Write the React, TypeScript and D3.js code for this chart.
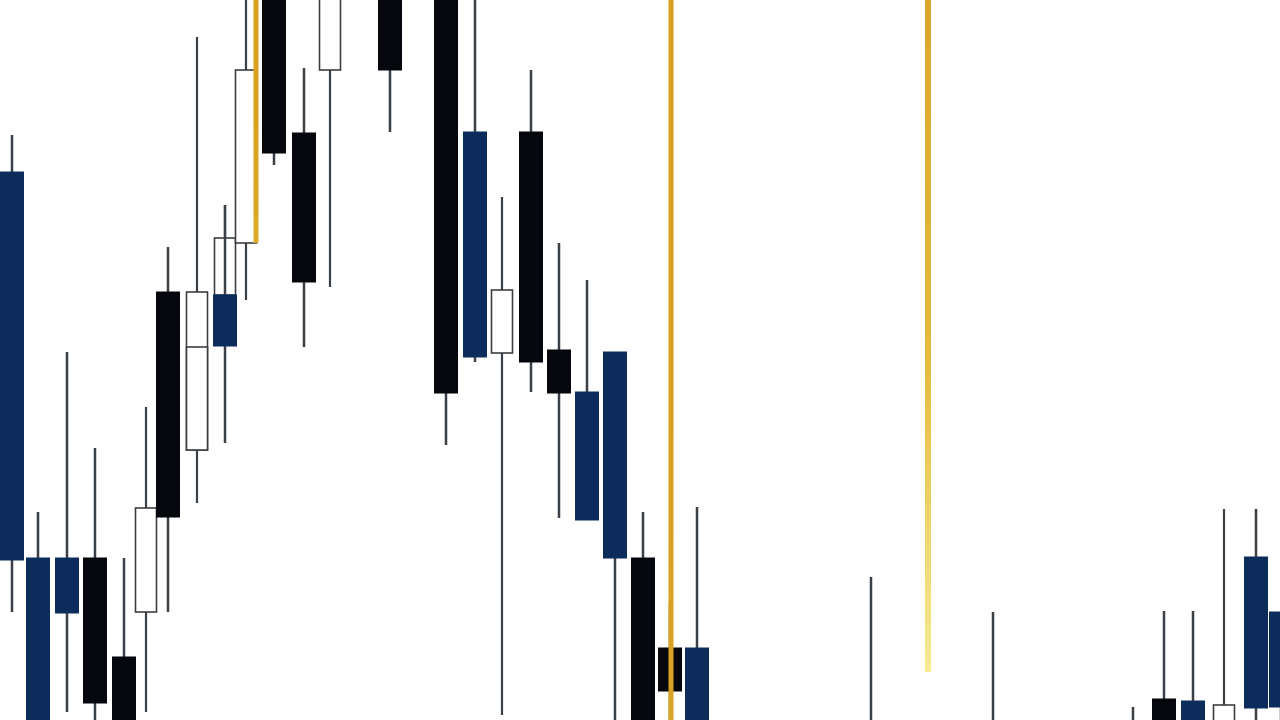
import React from "react";
import * as d3 from "d3";

// Candle data (x = time position, prices on an arbitrary scale)
const times = [12, 38, 67, 95, 124, 146, 168, 197, 197, 225, 225, 246, 274, 304, 330, 390, 446, 475, 502, 531, 559, 587, 615, 643, 670, 697, 871, 993, 1133, 1164, 1193, 1224, 1256, 1281];
const opens = [54.8, 16.2, 16.2, 16.2, 6.3, 10.8, 42.8, 27.0, 27.0, 42.5, 42.5, 47.7, 75, 58.7, 65.0, 75, 75, 58.8, 36.7, 58.8, 37.0, 32.8, 36.8, 16.2, 7.2, 7.2, -3, -3, -3, 2.1, 1.9, -3, 16.3, 10.8];
const closes = [16.0, -3, 10.7, 1.7, -3, 21.2, 20.3, 42.8, 37.3, 48.2, 37.4, 65.0, 56.7, 43.8, 75, 65.0, 32.7, 36.3, 43.0, 35.8, 32.7, 20.0, 16.2, -3, 2.9, -3, -5, -5, -5, -3, -3, 1.5, 1.2, 1.3];
const highs = [58.5, 20.8, 36.8, 27.2, 16.2, 31.3, 47.3, 68.3, 37.3, 51.5, 51.5, 75, 75, 65.2, 75, 75, 75, 75, 52.3, 65.0, 47.7, 44.0, 36.8, 20.8, 11.7, 21.3, 14.3, 10.8, 1.3, 10.9, 10.9, 21.1, 21.1, 10.8];
const lows = [10.8, -5, 0.8, -4, -5, 0.8, 10.8, 21.7, 27.0, 42.5, 27.7, 42.0, 55.5, 37.3, 43.3, 58.8, 27.5, 35.8, 0.5, 32.8, 20.2, 20.0, -3, -5, -5, -5, -6, -6, -6, -5, -5, -5, -5, -5];
const kinds = ["navy", "navy", "navy", "black", "black", "hollow", "black", "hollow", "hollow", "hollow", "navy", "hollow", "black", "black", "hollow", "black", "black", "navy", "hollow", "black", "black", "navy", "navy", "black", "black", "navy", "black", "black", "black", "black", "navy", "hollow", "navy", "navy"];

// Gold vertical marker lines
const markerTimes = [256, 671, 928];
const markerTops = [75, 75, 75];
const markerBottoms = [47.7, -5, 4.8];
const markerTopColors = ["#d8a21c", "#d6a01d", "#dba526"];
const markerBottomColors = ["#dcaa28", "#d9a528", "#f6ea96"];

const W = 1280;
const H = 720;

export default function App() {
  const x = d3.scaleLinear().domain([0, 1280]).range([0, W]);
  const y = d3.scaleLinear().domain([0, 72]).range([H, 0]);
  const bodyW = 23;
  const navy = "#0c2d5c";
  const black = "#05070c";
  const wick = "#3b3f46";

  const candles = times.map((t, i) => ({
    t,
    o: opens[i],
    c: closes[i],
    h: highs[i],
    l: lows[i],
    k: kinds[i],
  }));

  return (
    <svg
      width={W}
      height={H}
      style={{ position: "fixed", left: 0, top: 0, background: "#ffffff" }}
    >
      <defs>
        {markerTimes.map((t, i) => (
          <linearGradient
            key={"g" + i}
            id={"gold" + i}
            gradientUnits="userSpaceOnUse"
            x1={x(t)}
            x2={x(t)}
            y1={y(markerTops[i])}
            y2={y(markerBottoms[i])}
          >
            <stop offset="0%" stopColor={markerTopColors[i]} />
            <stop offset="55%" stopColor={i === 2 ? "#e4bb3c" : markerTopColors[i]} />
            <stop offset="100%" stopColor={markerBottomColors[i]} />
          </linearGradient>
        ))}
      </defs>
      <rect x={0} y={0} width={W} height={H} fill="#ffffff" />
      {candles.map((d, i) => {
        const cx = x(d.t);
        const top = y(Math.max(d.o, d.c));
        const bot = y(Math.min(d.o, d.c));
        const hollow = d.k === "hollow";
        const fill = d.k === "navy" ? navy : d.k === "black" ? black : "#ffffff";
        return (
          <g key={i}>
            {hollow ? (
              <>
                <line x1={cx} x2={cx} y1={y(d.h)} y2={top} stroke={wick} strokeWidth={2.2} />
                <line x1={cx} x2={cx} y1={bot} y2={y(d.l)} stroke={wick} strokeWidth={2.2} />
              </>
            ) : (
              <line x1={cx} x2={cx} y1={y(d.h)} y2={y(d.l)} stroke={wick} strokeWidth={2.5} />
            )}
            <rect
              x={cx - bodyW / 2 + (hollow ? 1 : 0)}
              y={top}
              width={bodyW - (hollow ? 2 : 0)}
              height={Math.max(1, bot - top)}
              fill={fill}
              stroke={hollow ? "#3a3d42" : fill}
              strokeWidth={hollow ? 1.6 : 1}
            />
          </g>
        );
      })}
      {markerTimes.map((t, i) => (
        <line
          key={"m" + i}
          x1={x(t)}
          x2={x(t)}
          y1={y(markerTops[i])}
          y2={y(markerBottoms[i])}
          stroke={`url(#gold${i})`}
          strokeWidth={i === 2 ? 6 : 5}
        />
      ))}
    </svg>
  );
}
